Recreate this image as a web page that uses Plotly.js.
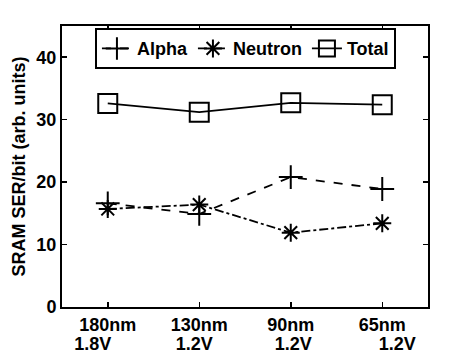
<!DOCTYPE html>
<html><head><meta charset="utf-8">
<script src="https://cdn.plot.ly/plotly-3.0.1.min.js"></script>
<style>body{margin:0;padding:0;background:#fff}#chart{width:474px;height:355px}</style>
</head><body><div id="chart"></div>
<script>
const categories = [1, 2, 3, 4];
const nodeLabels = ["180nm", "130nm", "90nm", "65nm"];
const voltageLabels = ["1.8V\u00A0\u00A0\u00A0\u00A0\u00A0\u00A0", "1.2V\u00A0\u00A0", "\u00A01.2V", "\u00A0\u00A0\u00A0\u00A0\u00A0\u00A01.2V"];
const alpha = [16.6, 14.9, 20.8, 18.9];
const neutron = [15.7, 16.4, 11.9, 13.4];
const total = [32.6, 31.2, 32.7, 32.4];

const fam = "Liberation Sans, Arial, sans-serif";
const tf = {family: fam, size: 18, weight: "bold", color: "#000"};
const traces = [
  {x: categories, y: alpha, name: "Alpha", mode: "lines+markers",
   line: {color: "#000", width: 1.8, dash: "dash"},
   marker: {symbol: "cross-thin-open", size: 17, line: {color: "#000", width: 2}}},
  {x: categories, y: neutron, name: "Neutron", mode: "lines+markers",
   line: {color: "#000", width: 1.8, dash: "dashdot"},
   marker: {symbol: "asterisk-open", size: 15, line: {color: "#000", width: 2}}},
  {x: categories, y: total, name: "Total", mode: "lines+markers",
   line: {color: "#000", width: 1.8, dash: "solid"},
   marker: {symbol: "square-open", size: 19, line: {color: "#000", width: 2}}},
  {x: categories, y: total, xaxis: "x2", yaxis: "y", mode: "none", showlegend: false, hoverinfo: "skip"}
];
const layout = {
  width: 474, height: 355,
  margin: {l: 62, r: 46, t: 26, b: 48},
  paper_bgcolor: "#fff", plot_bgcolor: "#fff",
  font: tf,
  showlegend: true,
  legend: {orientation: "h", x: 0.09, y: 0.992, xanchor: "left", yanchor: "top",
    bordercolor: "#000", borderwidth: 2, bgcolor: "#fff",
    font: {family: fam, size: 18, weight: "bold", color: "#000"},
    itemwidth: 30, tracegroupgap: 0},
  xaxis: {range: [0.5, 4.5], tickmode: "array", tickvals: categories, ticktext: nodeLabels,
    showgrid: false, zeroline: false, showline: true, linewidth: 2, linecolor: "#000",
    mirror: "ticks", ticks: "inside", ticklen: 5, tickwidth: 1.5, tickcolor: "#000",
    tickfont: tf},
  xaxis2: {range: [0.5, 4.5], overlaying: "x", anchor: "y", side: "bottom",
    tickmode: "array", tickvals: categories, ticktext: voltageLabels,
    showgrid: false, zeroline: false, showline: false, ticks: "",
    ticklabelstandoff: 24, tickfont: tf},
  yaxis: {range: [0, 45], tickvals: [0, 10, 20, 30, 40],
    showgrid: false, zeroline: false, showline: true, linewidth: 2, linecolor: "#000",
    mirror: "ticks", ticks: "inside", ticklen: 5, tickwidth: 1.5, tickcolor: "#000",
    tickfont: tf,
    title: {text: "SRAM SER/bit (arb. units)", standoff: 6,
      font: {family: fam, size: 18, weight: "bold", color: "#000"}}}
};
Plotly.newPlot("chart", traces, layout, {displayModeBar: false, staticPlot: true});
</script></body></html>
